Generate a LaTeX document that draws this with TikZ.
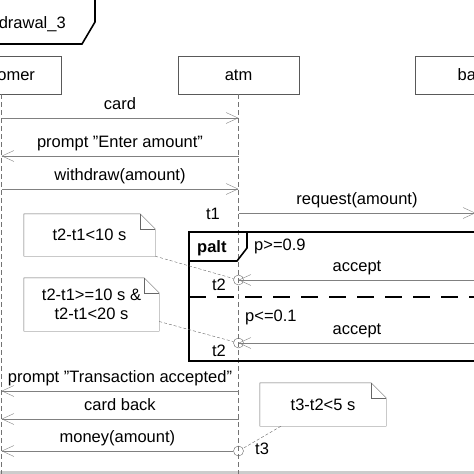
\documentclass[tikz,border=0pt]{standalone}
\usepackage{fontspec}
\setmainfont{Liberation Sans}
\usetikzlibrary{arrows.meta}
\tikzset{
  lifebox/.style={draw=black!65, minimum width=121pt, minimum height=38pt, inner sep=0pt},
  lifeline/.style={draw=black!55, dash pattern=on 5pt off 3pt},
  msg/.style={draw=black!50, -{Straight Barb[length=12pt, width=11pt]}},
  msglabel/.style={anchor=base, yshift=9pt, inner sep=0pt},
  obs/.style={circle, draw=black!60, inner sep=0pt, minimum size=10pt},
  notetext/.style={inner sep=0pt, align=center},
  notebox/.style={draw=black!60},
  noteline/.style={draw=black!60, dash pattern=on 3pt off 2pt},
  frameline/.style={draw=black, line width=1.6pt},
  altsep/.style={draw=black, line width=1.5pt, dash pattern=on 17pt off 11pt},
  tlabel/.style={inner sep=0pt},
}
% note with folded corner, drawn round a node
\newcommand{\drawnote}[1]{%
  \draw[notebox] (#1.south west) -- (#1.north west) -- ([xshift=-15pt]#1.north east)
    -- ([yshift=-15pt]#1.north east) -- (#1.south east) -- cycle;
  \draw[notebox] ([xshift=-15pt]#1.north east) |- ([yshift=-15pt]#1.north east);
}

\begin{document}
\begin{tikzpicture}[x=1pt, y=-1pt, font=\fontsize{16.5}{19}\selectfont]
    \useasboundingbox (0,0) rectangle (474,474);
    \clip (0,0) rectangle (474,474);

    % sd frame
    \draw[frameline] (95,-5) -- (95,22) -- (82,44) -- (-10,44);
    \node[tlabel, anchor=base east] (title) at (66,28) {sd withdrawal\_3};
    \draw[draw=black!20, line width=3pt] (-10,472.5) -- (490,472.5);

    % lifelines
    \node[lifebox] (customer) at (1,75) {customer};
    \node[lifebox] (atm) at (238.5,75) {atm};
    \node[lifebox] (bank) at (475.5,75) {bank};
    \coordinate (customer-end) at (1.5,480);
    \coordinate (atm-end) at (238.5,480);
    \coordinate (bank-end) at (475.5,480);
    \draw[lifeline, line width=1.5pt] (customer.south -| customer-end) -- (customer-end);
    \draw[lifeline] (atm.south) -- (atm-end);
    \draw[lifeline] (bank.south) -- (bank-end);

    \foreach \name/\y in {card/118, enter/156, withdraw/189, request/213, accept1/280,
                          accept2/343, done/391, cardback/419, money/451} {
      \coordinate (c-\name) at (customer-end |- 0,\y);
      \coordinate (a-\name) at (atm-end |- 0,\y);
      \coordinate (b-\name) at (bank-end |- 0,\y);
    }

    % alt fragment
    \draw[frameline] (189,232) rectangle (495,361);
    \draw[frameline] (189,261) -- (237,261) -- (247,248) -- (247,232);
    \node[tlabel, anchor=base west, font=\fontsize{16.5}{19}\selectfont\bfseries] (palt) at (197,252) {palt};
    \node[tlabel, anchor=base west] (guard1) at (254,250) {p>=0.9};
    \draw[altsep] (189,297) -- (495,297);
    \node[tlabel, anchor=base west] (guard2) at (245,321) {p<=0.1};

    % time observations
    \node[obs] (t2a) at (a-accept1) {};
    \node[obs] (t2b) at (a-accept2) {};
    \node[obs] (t3o) at (a-money) {};
    \node[tlabel, anchor=base east] (t1) at (220,219) {t1};
    \node[tlabel, anchor=base east] (t2a-label) at (226,290) {t2};
    \node[tlabel, anchor=base east] (t2b-label) at (226,356) {t2};
    \node[tlabel, anchor=base west] (t3-label) at (255,454) {t3};

    % messages
    \draw[msg] (c-card) -- node[msglabel] {card} (a-card);
    \draw[msg] (a-enter) -- node[msglabel] {prompt "Enter amount”} (c-enter);
    \draw[msg] (c-withdraw) -- node[msglabel] {withdraw(amount)} (a-withdraw);
    \draw[msg] (a-request) -- node[msglabel] {request(amount)} (b-request);
    \draw[msg] (b-accept1) -- node[msglabel] {accept} (t2a.center);
    \draw[msg] (b-accept2) -- node[msglabel] {accept} (t2b.center);
    \draw[msg] (a-done) -- node[msglabel] {prompt "Transaction accepted”} (c-done);
    \draw[msg] (a-cardback) -- node[msglabel] {card back} (c-cardback);
    \draw[msg] (t3o) -- node[msglabel] {money(amount)} (c-money);

    % constraint notes
    \node[notetext, minimum width=131pt, minimum height=42pt] (note1) at (89.5,235) {t2-t1<10 s};
    \node[notetext, minimum width=135pt, minimum height=53pt] (note2) at (91.5,304.5) {t2-t1>=10 s \&\\t2-t1<20 s};
    \node[notetext, minimum width=126pt, minimum height=43pt] (note3) at (323,404.5) {t3-t2<5 s};
    \drawnote{note1}
    \drawnote{note2}
    \drawnote{note3}
    \draw[noteline] (note1.south east) -- (t2a);
    \draw[noteline] ([yshift=-17pt]note2.east) -- (t2b);
    \draw[noteline] ([xshift=-42pt]note3.south) -- (t3o);
\end{tikzpicture}
\end{document}
